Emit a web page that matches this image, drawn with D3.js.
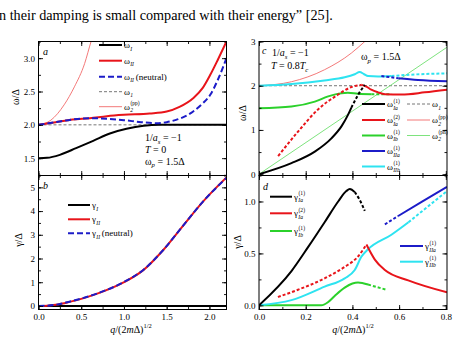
<!DOCTYPE html>
<html>
<head>
<meta charset="utf-8">
<script src="https://cdn.jsdelivr.net/npm/d3@7"></script>
<style>
  body { margin: 0; background: #fff; }
  svg { display: block; }
  svg text { font-family: "Liberation Serif", "Times New Roman", Times, "DejaVu Serif", serif; }
  .tick text { font-size: 9px; }
  .tick line { stroke: #000; stroke-width: 0.9; }
</style>
</head>
<body>
<svg width="474" height="361"></svg>
<script>
// ---- данные ----
// панель a: частоты, T = 0
const omegaI      = [[0,1.5],[0.1,1.505],[0.25,1.55],[0.44,1.65],[0.64,1.76],[0.835,1.87],[1.03,1.94],[1.23,1.985],[1.42,2.0],[2.2,2.0]];
const omegaII     = [[0,2.0],[0.2,2.04],[0.4,2.08],[0.6,2.1],[0.8,2.13],[1.0,2.15],[1.3,2.17],[1.5,2.2],[1.65,2.27],[1.81,2.4],[1.92,2.55],[2.01,2.75],[2.1,2.98],[2.2,3.25]];
const omegaIIneut = [[0,2.0],[0.2,2.04],[0.4,2.08],[0.6,2.1],[0.8,2.09],[1.0,2.07],[1.2,2.04],[1.38,2.025],[1.5,2.04],[1.61,2.075],[1.72,2.13],[1.81,2.2],[1.92,2.32],[2.01,2.45],[2.1,2.68],[2.2,3.0]];
const omega1A     = [[0,2],[2.2,2]];
const omega2ppA   = [[0,2.0],[0.145,2.07],[0.3,2.3],[0.42,2.57],[0.54,2.92],[0.615,3.25],[0.64,3.35]];

// панель b: затухание, T = 0
const gammaI      = [[0,0],[2.2,0]];
const gammaII     = [[0,0],[0.1,0.01],[0.2,0.05],[0.35,0.16],[0.52,0.32],[0.72,0.56],[0.99,0.98],[1.23,1.52],[1.46,2.36],[1.70,3.42],[1.93,4.42],[2.2,5.42]];
const gammaIIneut = [[0,0],[0.1,0.01],[0.2,0.05],[0.35,0.17],[0.52,0.33],[0.72,0.57],[0.99,0.99],[1.23,1.53],[1.46,2.36],[1.70,3.42],[1.93,4.42],[2.2,5.4]];

// панель c: частоты, T = 0.8Tc (solid / dashed части)
const omegaIa1     = [[0,0],[0.139,0.25],[0.239,0.51],[0.31,0.81],[0.353,1.08],[0.381,1.34],[0.395,1.5]];
const omegaIa1d    = [[0.395,1.5],[0.424,1.79],[0.453,2.02]];
const omegaIa2d    = [[0.082,0.41],[0.17,0.98],[0.254,1.47],[0.33,1.77],[0.396,1.97],[0.44,2.02]];
const omegaIa2     = [[0.44,2.02],[0.46,1.98],[0.481,1.91],[0.51,1.85],[0.539,1.81],[0.61,1.8],[0.71,1.85],[0.805,1.91]];
const omegaIb1     = [[0,1.49],[0.139,1.53],[0.239,1.64],[0.296,1.76],[0.353,1.83],[0.38,1.84],[0.424,1.82],[0.481,1.81]];
const omegaIb1d    = [[0.481,1.81],[0.567,1.81]];
const omegaIIb1    = [[0,2.0],[0.139,2.04],[0.28,2.12],[0.367,2.19],[0.41,2.26],[0.431,2.31],[0.45,2.26],[0.467,2.22],[0.51,2.21],[0.567,2.22]];
const omegaIIb1d   = [[0.567,2.22],[0.65,2.25],[0.805,2.28]];
const omegaIIa1d   = [[0.524,2.22],[0.596,2.17]];
const omegaIIa1    = [[0.596,2.17],[0.681,2.13],[0.805,2.1]];
const omega1C      = [[0,2],[0.805,2]];
const omega2ppC    = [[0,2.0],[0.139,2.09],[0.28,2.36],[0.396,2.74],[0.453,3.0],[0.47,3.08]];
const omega2phC    = [[0,0],[0.805,2.87]];

// панель d: затухание, T = 0.8Tc
const gammaIa1     = [[0,0],[0.139,0.33],[0.21,0.56],[0.281,0.8],[0.339,1.0],[0.374,1.1],[0.389,1.12],[0.41,1.09]];
const gammaIa1d    = [[0.41,1.09],[0.43,1.02],[0.453,0.91]];
const gammaIa2d    = [[0.081,0.08],[0.167,0.15],[0.281,0.26],[0.367,0.37],[0.424,0.47],[0.46,0.585]];
const gammaIa2     = [[0.46,0.585],[0.496,0.44],[0.539,0.34],[0.639,0.24],[0.805,0.125]];
const gammaIb1     = [[0,0],[0.267,0],[0.295,0.03],[0.324,0.09],[0.367,0.17],[0.4,0.21],[0.424,0.22],[0.467,0.2]];
const gammaIb1d    = [[0.467,0.2],[0.546,0.15]];
const gammaIIb1    = [[0,0],[0.139,0.05],[0.281,0.18],[0.367,0.26],[0.41,0.34],[0.439,0.47],[0.467,0.54],[0.567,0.68],[0.64,0.8]];
const gammaIIb1d   = [[0.64,0.8],[0.805,1.1]];
const gammaIIa1d   = [[0.539,0.78],[0.596,0.86]];
const gammaIIa1    = [[0.596,0.86],[0.7,1.0],[0.805,1.14]];

// метки осей
const xTicksLeft  = [0, 0.5, 1.0, 1.5, 2.0];
const xTicksRight = [0, 0.2, 0.4, 0.6, 0.8];
const yTicksA = [1.5, 2.0, 2.5, 3.0];
const yTicksB = [0, 1, 2, 3, 4, 5];
const yTicksC = [0, 1, 2, 3];
const yTicksD = [0, 0.5, 1.0];

// цвета
const RED = '#e8141a', BLUE = '#1c1cc8', GREEN = '#2bd12b', CYAN = '#2ee3f0',
      GREY = '#777', PINK = '#f26a6a', LGREEN = '#6fe06f';
const SERIF = '"Liberation Serif", "Times New Roman", Times, "DejaVu Serif", serif';

const svg = d3.select('svg').attr('font-family', SERIF);

// шапка из текста статьи
svg.append('text').attr('x', -1).attr('y', 20).attr('font-size', 14.2)
    .text('n their damping is small compared with their energy” [25].');

const top0 = 41.5, mid = 175.5, bot = 309.5;
const L = [38.5, 226.5], R = [259, 447];

function range(a, b, s) { const r = []; for (let v = a; v <= b + 1e-9; v += s) r.push(+v.toFixed(4)); return r; }

function makePanel(id, xr, yr, xDom, yDom, o) {
    const sx = d3.scaleLinear().domain(xDom).range(xr);
    const sy = d3.scaleLinear().domain(yDom).range(yr);
    const g = svg.append('g');
    g.append('clipPath').attr('id', 'clip' + id).append('rect')
        .attr('x', xr[0]).attr('y', yr[1]).attr('width', xr[1] - xr[0]).attr('height', yr[0] - yr[1]);
    const plot = g.append('g').attr('clip-path', `url(#clip${id})`);

    // оси: тики внутрь со всех сторон
    const addAxis = (gen, tr, vals, size, fmt, pad) => {
        const ax = g.append('g').attr('transform', tr)
            .call(gen.tickValues(vals).tickSize(-size).tickSizeOuter(0).tickPadding(pad).tickFormat(fmt));
        ax.attr('font-family', SERIF).attr('font-size', 9);
        ax.select('.domain').remove();
    };
    const none = () => '';
    addAxis(d3.axisBottom(sx), `translate(0,${yr[0]})`, o.xMinor, 2.5, none, 0);
    addAxis(d3.axisTop(sx), `translate(0,${yr[1]})`, o.xMinor, 2.5, none, 0);
    addAxis(d3.axisBottom(sx), `translate(0,${yr[0]})`, o.xMajor, 4.5, o.xFmt || none, 4);
    addAxis(d3.axisTop(sx), `translate(0,${yr[1]})`, o.xMajor, 4.5, none, 0);
    addAxis(d3.axisLeft(sy), `translate(${xr[0]},0)`, o.yMinor, 2.5, none, 0);
    addAxis(d3.axisRight(sy), `translate(${xr[1]},0)`, o.yMinor, 2.5, none, 0);
    addAxis(d3.axisLeft(sy), `translate(${xr[0]},0)`, o.yMajor, 4.5, o.yFmt, 3.5);
    addAxis(d3.axisRight(sy), `translate(${xr[1]},0)`, o.yMajor, 4.5, none, 0);

    g.append('rect').attr('x', xr[0]).attr('y', yr[1]).attr('width', xr[1] - xr[0]).attr('height', yr[0] - yr[1])
        .attr('fill', 'none').attr('stroke', '#000').attr('stroke-width', 1);

    const line = d3.line().x(d => sx(d[0])).y(d => sy(d[1])).curve(d3.curveMonotoneX);
    const draw = (data, color, w, dash) => {
        plot.append('path').datum(data).attr('d', line)
            .attr('fill', 'none').attr('stroke', color).attr('stroke-width', w)
            .attr('stroke-dasharray', dash || null);
    };
    return { sx, sy, g, draw };
}

// подпись с нижним и верхним индексами
function label(g, x, y, base, sub, sup, tail, size) {
    size = size || 9;
    const t = g.append('text').attr('x', x).attr('y', y).attr('font-size', size).text(base);
    const w = t.node().getComputedTextLength();
    let ws = 0, wp = 0;
    if (sub) {
        const s = g.append('text').attr('x', x + w + 0.3).attr('y', y + size * 0.3)
            .attr('font-size', size * 0.62).attr('font-style', 'italic').text(sub);
        ws = s.node().getComputedTextLength();
    }
    if (sup) {
        const s = g.append('text').attr('x', x + w + 0.5).attr('y', y - size * 0.5)
            .attr('font-size', size * 0.62).text(sup);
        wp = s.node().getComputedTextLength();
    }
    if (tail) g.append('text').attr('x', x + w + Math.max(ws, wp) + 2).attr('y', y).attr('font-size', size).text(tail);
}

function legendRow(g, x, y, len, color, w, dash, base, sub, sup, tail) {
    g.append('line').attr('x1', x).attr('x2', x + len).attr('y1', y).attr('y2', y)
        .attr('stroke', color).attr('stroke-width', w).attr('stroke-dasharray', dash || null);
    label(g, x + len + 2, y + 3, base, sub, sup, tail, 9);
}

function yTitle(x, y, sym) {
    svg.append('text').attr('transform', `translate(${x},${y}) rotate(-90)`)
        .attr('text-anchor', 'middle').attr('font-size', 10).text(sym + '/Δ');
}

function xTitle(cx, y) {
    const t = svg.append('text').attr('x', cx).attr('y', y).attr('text-anchor', 'middle').attr('font-size', 10);
    t.append('tspan').attr('font-style', 'italic').text('q');
    t.append('tspan').text('/(2');
    t.append('tspan').attr('font-style', 'italic').text('m');
    t.append('tspan').text('Δ)');
    t.append('tspan').attr('font-size', 6.5).attr('dy', -5).text('1/2');
}

function italicText(g, x, y, parts, size) {
    const t = g.append('text').attr('x', x).attr('y', y).attr('font-size', size || 10);
    parts.forEach(p => {
        const s = t.append('tspan').text(p[0]);
        if (p[1] === 'i') s.attr('font-style', 'italic');
        if (p[1] === 'sub') s.attr('font-style', 'italic').attr('font-size', 6.8).attr('dy', 2.5);
        if (p[1] === 'up') s.attr('dy', -2.5);
    });
}

const fmt1 = d3.format('.1f');

// ---- панель a ----
const pa = makePanel('a', L, [mid, top0], [0, 2.2], [1.24, 3.25], {
    xMajor: xTicksLeft, xMinor: range(0, 2.2, 0.25),
    yMajor: yTicksA, yMinor: range(1.25, 3.25, 0.25), yFmt: fmt1
});
pa.draw(omega1A, GREY, 1, '3,2');
pa.draw(omega2ppA, PINK, 0.9);
pa.draw(omegaI, '#000', 2);
pa.draw(omegaII, RED, 2);
pa.draw(omegaIIneut, BLUE, 2, '6,3');
svg.append('text').attr('x', 43).attr('y', 55).attr('font-size', 10).attr('font-style', 'italic').text('a');
legendRow(svg, 99, 45, 23, '#000', 2, null, 'ω', 'I');
legendRow(svg, 99, 60.7, 23, RED, 2, null, 'ω', 'II');
legendRow(svg, 99, 76.7, 23, BLUE, 2, '6,3', 'ω', 'II', null, '(neutral)');
legendRow(svg, 99, 91.7, 23, GREY, 1, '3,2', 'ω', '1');
legendRow(svg, 99, 106.7, 23, PINK, 0.9, null, 'ω', '2', '(pp)');
italicText(svg, 145, 141, [['1/', ''], ['a', 'i'], ['s', 'sub'], [' = −1', 'up']]);
italicText(svg, 145, 153, [['T', 'i'], [' = 0', '']]);
italicText(svg, 145, 164.5, [['ω', ''], ['p', 'sub'], [' =  1.5Δ', 'up']]);
yTitle(18.5, 97, 'ω');

// ---- панель b ----
const pb = makePanel('b', L, [bot, mid], [0, 2.2], [-0.15, 5.5], {
    xMajor: xTicksLeft, xMinor: range(0, 2.2, 0.25), xFmt: fmt1,
    yMajor: yTicksB, yMinor: range(0, 5.5, 0.5), yFmt: d3.format('d')
});
pb.draw(gammaI, '#000', 2);
pb.draw(gammaII, RED, 2);
pb.draw(gammaIIneut, BLUE, 2, '6,3');
svg.append('text').attr('x', 43).attr('y', 189).attr('font-size', 10).attr('font-style', 'italic').text('b');
legendRow(svg, 68, 205, 22, '#000', 2, null, 'γ', 'I');
legendRow(svg, 68, 219.3, 22, RED, 2, null, 'γ', 'II');
legendRow(svg, 68, 233.3, 22, BLUE, 2, '6,3', 'γ', 'II', null, '(neutral)');
yTitle(22, 240, 'γ');
xTitle(131, 333);

// ---- панель c ----
const pc = makePanel('c', R, [mid, top0], [0, 0.805], [-0.03, 3.0], {
    xMajor: xTicksRight, xMinor: range(0, 0.8, 0.1),
    yMajor: yTicksC, yMinor: range(0, 3, 0.5), yFmt: d3.format('d')
});
pc.draw(omega1C, GREY, 1, '3,2');
pc.draw(omega2ppC, PINK, 0.9);
pc.draw(omega2phC, LGREEN, 0.9);
pc.draw(omegaIb1, GREEN, 2);
pc.draw(omegaIb1d, GREEN, 2, '3,2');
pc.draw(omegaIIb1, CYAN, 2);
pc.draw(omegaIIb1d, CYAN, 2, '3,2');
pc.draw(omegaIIa1d, BLUE, 2, '3,2');
pc.draw(omegaIIa1, BLUE, 2);
pc.draw(omegaIa2d, RED, 2, '3,2');
pc.draw(omegaIa2, RED, 2);
pc.draw(omegaIa1, '#000', 2);
pc.draw(omegaIa1d, '#000', 2, '3,2');
svg.append('text').attr('x', 262).attr('y', 54).attr('font-size', 10).attr('font-style', 'italic').text('c');
italicText(svg, 272, 56, [['1/', ''], ['a', 'i'], ['s', 'sub'], [' = −1', 'up']]);
italicText(svg, 271, 69, [['T', 'i'], [' = 0.8', ''], ['T', 'i'], ['c', 'sub']]);
italicText(svg, 361, 60, [['ω', ''], ['p', 'sub'], [' =  1.5Δ', 'up']]);
legendRow(svg, 362, 104, 23, '#000', 2, null, 'ω', 'Ia', '(1)');
legendRow(svg, 362, 120, 23, RED, 2, null, 'ω', 'Ia', '(2)');
legendRow(svg, 362, 135.5, 23, GREEN, 2, null, 'ω', 'Ib', '(1)');
legendRow(svg, 362, 151, 23, BLUE, 2, null, 'ω', 'IIa', '(1)');
legendRow(svg, 362, 166.5, 23, CYAN, 2, null, 'ω', 'IIb', '(1)');
legendRow(svg, 407, 104, 23, GREY, 1, '3,2', 'ω', '1');
legendRow(svg, 407, 120, 23, PINK, 0.9, null, 'ω', '2', '(pp)');
legendRow(svg, 407, 135.5, 23, LGREEN, 0.9, null, 'ω', '2', '(ph)');
yTitle(246, 113, 'ω');

// ---- панель d ----
const pd = makePanel('d', R, [bot, mid], [0, 0.805], [-0.04, 1.25], {
    xMajor: xTicksRight, xMinor: range(0, 0.8, 0.1), xFmt: fmt1,
    yMajor: yTicksD, yMinor: range(0, 1.25, 0.25), yFmt: fmt1
});
pd.draw(gammaIb1, GREEN, 2);
pd.draw(gammaIb1d, GREEN, 2, '3,2');
pd.draw(gammaIIb1, CYAN, 2);
pd.draw(gammaIIb1d, CYAN, 2, '3,2');
pd.draw(gammaIIa1d, BLUE, 2, '3,2');
pd.draw(gammaIIa1, BLUE, 2);
pd.draw(gammaIa2d, RED, 2, '3,2');
pd.draw(gammaIa2, RED, 2);
pd.draw(gammaIa1, '#000', 2);
pd.draw(gammaIa1d, '#000', 2, '3,2');
svg.append('text').attr('x', 263).attr('y', 190).attr('font-size', 10).attr('font-style', 'italic').text('d');
legendRow(svg, 270, 196.7, 22, '#000', 2, null, 'γ', 'Ia', '(1)');
legendRow(svg, 270, 213.3, 22, RED, 2, null, 'γ', 'Ia', '(2)');
legendRow(svg, 270, 231, 22, GREEN, 2, null, 'γ', 'Ib', '(1)');
legendRow(svg, 400, 246, 23, BLUE, 2, null, 'γ', 'IIa', '(1)');
legendRow(svg, 400, 261.7, 23, CYAN, 2, null, 'γ', 'IIb', '(1)');
yTitle(241, 242, 'γ');
xTitle(353, 333);
</script>
</body>
</html>
